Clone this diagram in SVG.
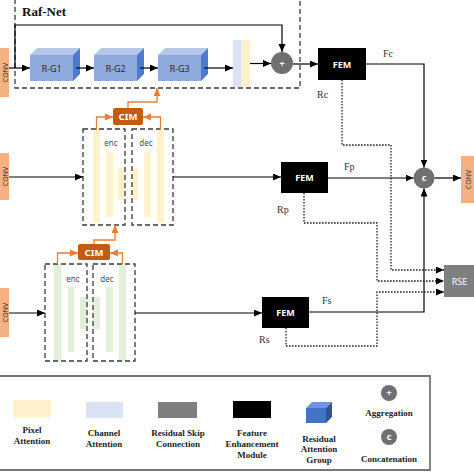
<svg xmlns="http://www.w3.org/2000/svg" width="474" height="474" viewBox="0 0 474 474">
<defs>
<marker id="ah" markerUnits="userSpaceOnUse" markerWidth="9" markerHeight="8" refX="8" refY="3.5" orient="auto"><path d="M0,0 L8,3.5 L0,7 z" fill="#000"/></marker>
<marker id="ao" markerUnits="userSpaceOnUse" markerWidth="9" markerHeight="8" refX="8" refY="3.5" orient="auto"><path d="M0,0 L8,3.5 L0,7 z" fill="#ED7D31"/></marker>
<style>
.ln{fill:none;stroke:#000;stroke-width:1.2}
.dot{fill:none;stroke:#222;stroke-width:1.3;stroke-dasharray:1.6,1.4}
.or{fill:none;stroke:#ED7D31;stroke-width:1.3}
.dash{fill:none;stroke:#3a3a3a;stroke-width:1.3;stroke-dasharray:5,3}
.conv{fill:#F4B183}
.convt{font-family:"Noto Sans","Liberation Sans",sans-serif;font-size:7px;fill:#333}
.fem{fill:#000}
.femt{font-family:"Noto Sans","Liberation Sans",sans-serif;font-size:9px;fill:#fff;font-weight:bold;text-anchor:middle}
.rg{font-family:"Noto Sans","Liberation Sans",sans-serif;font-size:9px;fill:#2a2a2a;text-anchor:middle}
.pa{fill:#FFF2CC}
.ca{fill:#DAE3F3}
.ga{fill:#E2EFD9}
.ed{font-family:"Noto Sans","Liberation Sans",sans-serif;font-size:8px;fill:#44546A;text-anchor:middle}
.cim{fill:#C55A11}
.cimt{font-family:"Noto Sans","Liberation Sans",sans-serif;font-size:9.5px;fill:#fff;text-anchor:middle;font-weight:bold}
.lab{font-family:"Liberation Serif",serif;font-size:10px;fill:#333}
.leg{font-family:"Liberation Serif",serif;font-size:9px;font-weight:bold;fill:#222;text-anchor:middle}
.circ{fill:#707070}
.ct{font-family:"Noto Sans","Liberation Sans",sans-serif;font-size:9px;fill:#fff;text-anchor:middle;font-weight:bold}
</style>
</defs>
<rect width="474" height="474" fill="#fff"/>

<g id="rafnet">
<rect class="dash" x="15" y="-10" width="285" height="98"/>
<text x="22" y="16" font-family="Liberation Serif,serif" font-size="13" font-weight="bold" fill="#111">Raf-Net</text>
</g>

<g id="conv1"><rect class="conv" x="-10" y="48" width="19" height="49"/><text class="convt" transform="translate(8,72.5) rotate(-90)" text-anchor="middle">CONV</text></g>
<g id="conv2"><rect class="conv" x="-10" y="153" width="19" height="47"/><text class="convt" transform="translate(8,176.5) rotate(-90)" text-anchor="middle">CONV</text></g>
<g id="conv3"><rect class="conv" x="-10" y="288" width="19" height="49"/><text class="convt" transform="translate(8,312.5) rotate(-90)" text-anchor="middle">CONV</text></g>
<g id="conv4"><rect class="conv" x="461" y="156" width="24" height="47"/><text class="convt" transform="translate(471,179.5) rotate(-90)" text-anchor="middle" font-size="8">CONV</text></g>

<g id="rg1"><path d="M30,55 L37,48 L80,48 L73,55 z" fill="#B4C7E7"/><path d="M73,55 L80,48 L80,74 L73,81 z" fill="#4F7BCB"/><rect x="30" y="55" width="43" height="26" fill="#8FAADC"/><text class="rg" x="51.5" y="71.5">R-G1</text></g>
<g id="rg2"><path d="M94,55 L101,48 L144,48 L137,55 z" fill="#B4C7E7"/><path d="M137,55 L144,48 L144,74 L137,81 z" fill="#4F7BCB"/><rect x="94" y="55" width="43" height="26" fill="#8FAADC"/><text class="rg" x="115.5" y="71.5">R-G2</text></g>
<g id="rg3"><path d="M158,55 L165,48 L208,48 L201,55 z" fill="#B4C7E7"/><path d="M201,55 L208,48 L208,74 L201,81 z" fill="#4F7BCB"/><rect x="158" y="55" width="43" height="26" fill="#8FAADC"/><text class="rg" x="179.5" y="71.5">R-G3</text></g>

<g id="attbar"><rect class="ca" x="233" y="40" width="8.5" height="47"/><rect class="pa" x="241.5" y="40" width="8.5" height="47"/></g>

<g id="agg"><circle class="circ" cx="282" cy="63" r="11"/><text class="ct" x="282" y="66.5">+</text></g>

<g id="femc"><rect class="fem" x="318" y="48" width="48" height="32"/><text class="femt" x="342" y="67.5">FEM</text></g>
<g id="femp"><rect class="fem" x="281" y="162" width="47" height="31"/><text class="femt" x="304.5" y="181">FEM</text></g>
<g id="fems"><rect class="fem" x="262" y="297" width="47" height="31"/><text class="femt" x="285.5" y="316">FEM</text></g>

<g id="concat"><circle class="circ" cx="424" cy="178" r="10.5"/><text class="ct" x="424" y="181">c</text></g>

<g id="rse"><rect x="444" y="265" width="40" height="32" fill="#7F7F7F"/><text x="459.5" y="284.5" font-family="Noto Sans,Liberation Sans,sans-serif" font-size="9" fill="#fff" text-anchor="middle">RSE</text></g>

<g id="encdec-mid">
<rect class="pa" x="93" y="130" width="7" height="93"/>
<rect class="pa" x="106" y="152" width="7" height="65"/>
<rect class="pa" x="118" y="168" width="7" height="32"/>
<rect class="pa" x="132" y="168" width="6" height="32"/>
<rect class="pa" x="144" y="152" width="7" height="65"/>
<rect class="pa" x="157" y="130" width="7" height="93"/>
<rect class="dash" x="83" y="129" width="42" height="96"/>
<rect class="dash" x="132" y="129" width="41" height="96"/>
<text class="ed" x="111" y="146">enc</text>
<text class="ed" x="146" y="146">dec</text>
</g>
<g id="cim-mid"><rect class="cim" x="113" y="108" width="30" height="17" rx="2"/><text class="cimt" x="128" y="120">CIM</text></g>

<g id="encdec-bot">
<rect class="ga" x="54" y="264" width="7" height="97"/>
<rect class="ga" x="68" y="287" width="6" height="65"/>
<rect class="ga" x="80" y="297" width="7" height="32"/>
<rect class="ga" x="93" y="297" width="7" height="32"/>
<rect class="ga" x="106" y="287" width="7" height="65"/>
<rect class="ga" x="119" y="264" width="7" height="97"/>
<rect class="dash" x="45" y="264" width="42" height="97"/>
<rect class="dash" x="93" y="264" width="42" height="97"/>
<text class="ed" x="73" y="282">enc</text>
<text class="ed" x="107" y="282">dec</text>
</g>
<g id="cim-bot"><rect class="cim" x="78" y="244" width="32" height="16" rx="2"/><text class="cimt" x="94" y="255.5">CIM</text></g>

<g id="labels">
<text class="lab" x="383" y="57">Fc</text>
<text class="lab" x="317" y="98">Rc</text>
<text class="lab" x="344" y="170">Fp</text>
<text class="lab" x="277" y="213">Rp</text>
<text class="lab" x="322" y="304">Fs</text>
<text class="lab" x="259" y="343">Rs</text>
</g>

<g id="connectors">
<path class="ln" d="M9,68 H30" marker-end="url(#ah)"/>
<path class="ln" d="M76,68 H94" marker-end="url(#ah)"/>
<path class="ln" d="M140,68 H158" marker-end="url(#ah)"/>
<path class="ln" d="M204,68 H233" marker-end="url(#ah)"/>
<path class="ln" d="M250,63.5 H271" marker-end="url(#ah)"/>
<path class="ln" d="M15,68 V25 H282 V52" marker-end="url(#ah)"/>
<path class="ln" d="M293,64 H318" marker-end="url(#ah)"/>
<path class="ln" d="M366,64 H424 V167.5" marker-end="url(#ah)"/>
<path class="ln" d="M9,177 H83" marker-end="url(#ah)"/>
<path class="ln" d="M173,177 H281" marker-end="url(#ah)"/>
<path class="ln" d="M328,178 H413.5" marker-end="url(#ah)"/>
<path class="ln" d="M434.5,178 H461" marker-end="url(#ah)"/>
<path class="ln" d="M9,313 H45" marker-end="url(#ah)"/>
<path class="ln" d="M135,313 H262" marker-end="url(#ah)"/>
<path class="ln" d="M309,312 H424 V188.5" marker-end="url(#ah)"/>
<path class="dot" d="M342,80 V145 H391 V270 H444" marker-end="url(#ah)"/>
<path class="dot" d="M304,193 V223 H377 V281 H444" marker-end="url(#ah)"/>
<path class="dot" d="M286,328 V346 H377 V292 H444" marker-end="url(#ah)"/>
<path class="or" d="M96.5,130 V117 H113" marker-end="url(#ao)"/>
<path class="or" d="M160.5,130 V117 H143" marker-end="url(#ao)"/>
<path class="or" d="M128,108 V102 H157 V88" marker-end="url(#ao)"/>
<path class="or" d="M57.5,264 V253 H78" marker-end="url(#ao)"/>
<path class="or" d="M122.5,264 V253 H110" marker-end="url(#ao)"/>
<path class="or" d="M94,244 V240 H115 V225" marker-end="url(#ao)"/>
</g>

<g id="legend">
<path d="M-2,376 H430 V470 H-2" fill="none" stroke="#777" stroke-width="1.8"/>
<rect class="pa" x="13" y="400" width="38" height="17"/>
<text class="leg" x="32" y="433">Pixel</text><text class="leg" x="32" y="444">Attention</text>
<rect class="ca" x="86" y="402" width="37" height="16"/>
<text class="leg" x="104" y="436">Channel</text><text class="leg" x="104" y="447">Attention</text>
<rect x="158" y="402" width="39" height="16" fill="#7F7F7F"/>
<text class="leg" x="178" y="436">Residual Skip</text><text class="leg" x="178" y="447">Connection</text>
<rect x="233" y="401" width="38" height="17" fill="#000"/>
<text class="leg" x="252" y="436">Feature</text><text class="leg" x="252" y="447">Enhancement</text><text class="leg" x="252" y="458">Module</text>
<path d="M306,408 L312,402 L332,402 L326,408 z" fill="#6F95DA"/>
<path d="M326,408 L332,402 L332,417 L326,423 z" fill="#2F5597"/>
<rect x="306" y="408" width="20" height="15" fill="#4472C4"/>
<text class="leg" x="319" y="442">Residual</text><text class="leg" x="319" y="452">Attention</text><text class="leg" x="319" y="463">Group</text>
<circle class="circ" cx="389" cy="393" r="8"/><text class="ct" x="389" y="396" font-size="8">+</text>
<text class="leg" x="389" y="416">Aggregation</text>
<circle class="circ" cx="389" cy="437" r="8"/><text class="ct" x="389" y="440" font-size="8">c</text>
<text class="leg" x="389" y="462">Concatenation</text>
</g>
</svg>
